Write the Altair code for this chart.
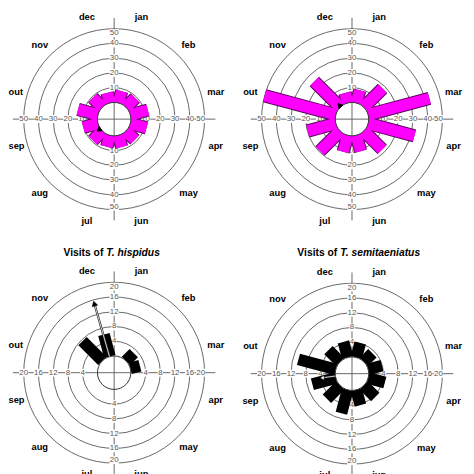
import math

import altair as alt
import pandas as pd

MONTHS = ["jan", "feb", "mar", "apr", "may", "jun", "jul", "aug", "sep", "out", "nov", "dec"]

# monthly values (jan..dec)
top_left_values = [8.2, 8.9, 12.3, 11.4, 8.5, 8.3, 8.0, 9.1, 10.3, 14.0, 9.2, 7.1]
top_right_values = [9.0, 18.0, 43.0, 32.5, 17.7, 11.2, 11.6, 19.3, 19.7, 50.0, 24.8, 7.0]
hispidus_values = [0, 3.0, 2.7, 0, 0, 0, 0, 0, 0, 0, 7.6, 6.2]
semitaeniatus_values = [4.1, 3.3, 3.9, 4.7, 4.4, 4.3, 6.6, 5.1, 6.6, 10.5, 4.5, 4.4]

top_ticks = [10, 20, 30, 40, 50]
bottom_ticks = [4, 8, 12, 16, 20]

# mean vectors: (direction in degrees clockwise from north, length)
top_left_mean = (235, 2.2)
top_right_mean = (318, 2.2)
hispidus_mean = (344, 15.3)
semitaeniatus_mean = (262, 4.0)

# layout (pixels inside the 466 x 466 canvas)
SIZE = 466
HOLE = 17
OUTER = 92
LABEL_R = 107
AXIS_R = 103
TITLE_Y = 245
MONTH_FONT = 9.5
# outer tick label pulled inwards a little, per direction (top, right, bottom, left)
OUTER_SHIFT = {0: 4.5, 90: 4, 180: 3, 270: 0}

panels = [
    dict(cx=108, cy=109, ticks=top_ticks, values=top_left_values, kind="pink",
         mean=top_left_mean, head="black", title=None),
    dict(cx=350, cy=109, ticks=top_ticks, values=top_right_values, kind="pink",
         mean=top_right_mean, head="black", title=None),
    dict(cx=108, cy=367, ticks=bottom_ticks, values=hispidus_values, kind="black",
         mean=hispidus_mean, head="black", title=("T. hispidus", 98.5)),
    dict(cx=350, cy=368, ticks=bottom_ticks, values=semitaeniatus_values, kind="black",
         mean=semitaeniatus_mean, head="white", title=("T. semitaeniatus", 336.5)),
]


def polar(cx, cy, r, ang):
    a = math.radians(ang)
    return cx + r * math.sin(a), cy - r * math.cos(a)


def radius(v, vmax):
    return HOLE + (OUTER - HOLE) * v / vmax


rings, axes, ticks, months, bars, shafts, heads, titles = [], [], [], [], [], [], [], []
for p in panels:
    cx, cy, vmax = p["cx"], p["cy"], max(p["ticks"])
    for t in [0] + p["ticks"]:
        rings.append({"x": cx, "y": cy, "r": radius(t, vmax), "hole": t == 0})
    axes.append({"x": cx, "y": cy - AXIS_R, "x2": cx, "y2": cy + AXIS_R})
    axes.append({"x": cx - AXIS_R, "y": cy, "x2": cx + AXIS_R, "y2": cy})
    for t in p["ticks"]:
        w = 9.5 if t >= 10 else 5.5
        for ang in (0, 90, 180, 270):
            r = radius(t, vmax) - (OUTER_SHIFT[ang] if t == vmax else 0)
            x, y = polar(cx, cy, r, ang)
            ticks.append({"x": x, "y": y, "label": str(t),
                          "bx": x - w / 2, "bx2": x + w / 2, "by": y - 4, "by2": y + 4})
    for i, m in enumerate(MONTHS):
        x, y = polar(cx, cy, LABEL_R, 15 + 30 * i)
        half = 0.3 * MONTH_FONT * len(m)
        align = "center"
        if x - half < 0.5:  # keep the label inside the canvas
            x, align = 0.5, "left"
        months.append({"x": x, "y": y, "label": m, "align": align})
    for i, v in enumerate(p["values"]):
        if v <= 0:
            continue
        ang = 15 + 30 * i
        x, y = polar(cx, cy, HOLE, ang)
        x2, y2 = polar(cx, cy, radius(v, vmax), ang)
        bars.append({"x": x, "y": y, "x2": x2, "y2": y2, "kind": p["kind"]})
    ang, length = p["mean"]
    tip = radius(length, vmax)
    x, y = polar(cx, cy, HOLE, ang)
    x2, y2 = polar(cx, cy, tip - 2, ang)
    shafts.append({"x": x, "y": y, "x2": x2, "y2": y2})
    heads.append({"x": x2, "y": y2, "angle": ang, "fill": p["head"]})
    if p["title"]:
        name, split = p["title"]
        titles.append({"x": split - 1.5, "y": TITLE_Y, "label": "Visits of", "style": "normal"})
        titles.append({"x": split + 1.5, "y": TITLE_Y, "label": name, "style": "italic"})

rings = pd.DataFrame(rings)
axes = pd.DataFrame(axes)
ticks = pd.DataFrame(ticks)
months = pd.DataFrame(months)
bars = pd.DataFrame(bars)
shafts = pd.DataFrame(shafts)
heads = pd.DataFrame(heads)
titles = pd.DataFrame(titles)

xs = alt.Scale(domain=[0, SIZE], nice=False, zero=False)
ys = alt.Scale(domain=[0, SIZE], nice=False, zero=False, reverse=True)
rs = alt.Scale(type="linear", domain=[0, 100], range=[0, 100], zero=True)
X = lambda f="x": alt.X(f"{f}:Q", scale=xs, axis=None)
Y = lambda f="y": alt.Y(f"{f}:Q", scale=ys, axis=None)
R = alt.Radius("r:Q", scale=rs, stack=None)
FONT = "Liberation Sans"

ring_layer = alt.Chart(rings[~rings.hole]).mark_arc(
    filled=False, stroke="#555555", strokeWidth=0.9, theta=0, theta2=2 * math.pi
).encode(x=X(), y=Y(), radius=R)

hole_layer = alt.Chart(rings[rings.hole]).mark_arc(
    filled=False, stroke="#333333", strokeWidth=1, theta=0, theta2=2 * math.pi
).encode(x=X(), y=Y(), radius=R)

axis_layer = alt.Chart(axes).mark_rule(color="#666666", strokeWidth=1).encode(
    x=X(), y=Y(), x2="x2:Q", y2="y2:Q"
)

box_layer = alt.Chart(ticks).mark_rect(color="white").encode(
    x=X("bx"), x2="bx2:Q", y=Y("by"), y2="by2:Q"
)

tick_layer = alt.Chart(ticks).mark_text(
    font=FONT, fontSize=8, color="#555555", baseline="middle"
).encode(x=X(), y=Y(), text="label:N")

pink = bars[bars.kind == "pink"]
pink_edge = alt.Chart(pink).mark_rule(color="#5c005c", strokeWidth=13.5).encode(
    x=X(), y=Y(), x2="x2:Q", y2="y2:Q"
)
pink_fill = alt.Chart(pink).mark_rule(color="#ff00ff", strokeWidth=11.5).encode(
    x=X(), y=Y(), x2="x2:Q", y2="y2:Q"
)
black_bars = alt.Chart(bars[bars.kind == "black"]).mark_rule(
    color="black", strokeWidth=12
).encode(x=X(), y=Y(), x2="x2:Q", y2="y2:Q")

shaft_outer = alt.Chart(shafts).mark_rule(color="#222222", strokeWidth=2.2).encode(
    x=X(), y=Y(), x2="x2:Q", y2="y2:Q"
)
shaft_inner = alt.Chart(shafts).mark_rule(color="white", strokeWidth=0.8).encode(
    x=X(), y=Y(), x2="x2:Q", y2="y2:Q"
)
head_layer = alt.Chart(heads).mark_point(
    shape="triangle", filled=True, size=28, stroke="black", strokeWidth=0.8, opacity=1
).encode(
    x=X(), y=Y(),
    angle=alt.Angle("angle:Q", scale=None),
    fill=alt.Fill("fill:N", scale=None),
)

month_center = alt.Chart(months[months["align"] == "center"]).mark_text(
    font=FONT, fontSize=MONTH_FONT, fontWeight="bold", color="black", baseline="middle"
).encode(x=X(), y=Y(), text="label:N")
month_left = alt.Chart(months[months["align"] == "left"]).mark_text(
    font=FONT, fontSize=MONTH_FONT, fontWeight="bold", color="black", baseline="middle", align="left"
).encode(x=X(), y=Y(), text="label:N")

title_plain = alt.Chart(titles[titles["style"] == "normal"]).mark_text(
    font=FONT, fontSize=10.5, fontWeight="bold", align="right", baseline="middle"
).encode(x=X(), y=Y(), text="label:N")
title_italic = alt.Chart(titles[titles["style"] == "italic"]).mark_text(
    font=FONT, fontSize=10.5, fontWeight="bold", fontStyle="italic", align="left", baseline="middle"
).encode(x=X(), y=Y(), text="label:N")

chart = (
    alt.layer(
        ring_layer, axis_layer, box_layer, pink_edge, pink_fill, black_bars,
        tick_layer, hole_layer, shaft_outer, shaft_inner, head_layer,
        month_center, month_left, title_plain, title_italic,
    )
    .properties(width=SIZE, height=SIZE, autosize=alt.AutoSizeParams(type="none"), padding=0)
    .configure_view(strokeWidth=0)
)

chart.save("out.html", embed_options={"renderer": "svg", "actions": False})
